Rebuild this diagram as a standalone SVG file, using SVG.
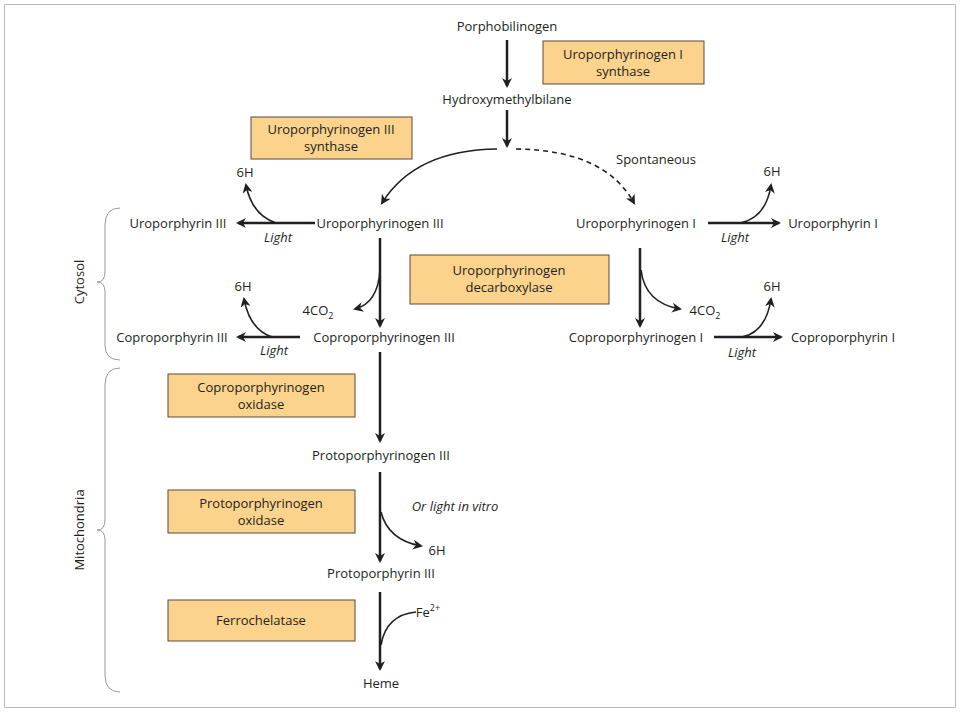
<svg xmlns="http://www.w3.org/2000/svg" width="960" height="714" viewBox="0 0 960 714">
<defs>
<marker id="ah" markerWidth="10" markerHeight="10" refX="8" refY="5" orient="auto" markerUnits="userSpaceOnUse">
<path d="M0,0 L10,5 L0,10 L3,5 Z" fill="#231f20"/>
</marker>
</defs>
<style>
text{font-family:"Open Sans","Liberation Sans",sans-serif;font-size:13px;fill:#231f20;text-anchor:middle}
.i{font-style:italic}
.box{fill:#fcd38c;stroke:#5a4a3a;stroke-width:1}
.m{stroke:#231f20;stroke-width:2.5;fill:none}
.t{stroke:#231f20;stroke-width:1.6;fill:none}
.br{stroke:#999;stroke-width:1;fill:none}
</style>
<rect x="0" y="0" width="960" height="714" fill="#fff"/>
<rect x="4.5" y="4.5" width="951" height="703" fill="none" stroke="#bbb"/>
<g id="nodes">
<g id="n1"><text x="507" y="31">Porphobilinogen</text></g>
<g id="n2"><text x="507" y="104">Hydroxymethylbilane</text></g>
<g id="e1"><rect class="box" x="543" y="41" width="161" height="43"/><text x="623" y="59">Uroporphyrinogen I</text><text x="623" y="76">synthase</text></g>
<g id="e2"><rect class="box" x="251" y="117" width="161" height="42"/><text x="331" y="134">Uroporphyrinogen III</text><text x="331" y="151">synthase</text></g>
<g id="n3"><text x="380" y="228">Uroporphyrinogen III</text></g>
<g id="n4"><text x="178" y="228">Uroporphyrin III</text></g>
<g id="n5"><text x="636" y="228">Uroporphyrinogen I</text></g>
<g id="n6"><text x="833" y="228">Uroporphyrin I</text></g>
<g id="e3"><rect class="box" x="410" y="255" width="199" height="49"/><text x="509" y="275">Uroporphyrinogen</text><text x="509" y="292">decarboxylase</text></g>
<g id="n7"><text x="384" y="342">Coproporphyrinogen III</text></g>
<g id="n8"><text x="172" y="342">Coproporphyrin III</text></g>
<g id="n9"><text x="636" y="342">Coproporphyrinogen I</text></g>
<g id="n10"><text x="843" y="342">Coproporphyrin I</text></g>
<g id="e4"><rect class="box" x="168" y="374" width="187" height="43"/><text x="261" y="392">Coproporphyrinogen</text><text x="261" y="409">oxidase</text></g>
<g id="n11"><text x="381" y="460">Protoporphyrinogen III</text></g>
<g id="e5"><rect class="box" x="168" y="490" width="187" height="43"/><text x="261" y="508">Protoporphyrinogen</text><text x="261" y="525">oxidase</text></g>
<g id="n12"><text x="381" y="578">Protoporphyrin III</text></g>
<g id="e6"><rect class="box" x="168" y="600" width="187" height="41"/><text x="261" y="625">Ferrochelatase</text></g>
<g id="n13"><text x="381" y="688">Heme</text></g>
<g id="labels">
<text x="656" y="164">Spontaneous</text>
<text x="245" y="177">6H</text>
<text x="772" y="176">6H</text>
<text x="243" y="291">6H</text>
<text x="772" y="291">6H</text>
<text x="278" y="242" class="i">Light</text>
<text x="274" y="355" class="i">Light</text>
<text x="735" y="242" class="i">Light</text>
<text x="742" y="357" class="i">Light</text>
<text x="318" y="315">4CO<tspan font-size="9" dy="4">2</tspan></text>
<text x="705" y="315">4CO<tspan font-size="9" dy="4">2</tspan></text>
<text x="455" y="511" class="i">Or light in vitro</text>
<text x="437" y="555">6H</text>
<text x="428" y="617">Fe<tspan font-size="9" dy="-6">2+</tspan></text>
<text transform="translate(84,282) rotate(-90)">Cytosol</text>
<text transform="translate(84,530) rotate(-90)">Mitochondria</text>
</g>
</g>
<g id="connectors">
<path class="br" d="M120,208 Q105,208 105,225 L105,272 Q105,282 97,282 Q105,282 105,292 L105,345 Q105,360 120,360"/>
<path class="br" d="M120,368 Q105,368 105,385 L105,520 Q105,530 97,530 Q105,530 105,540 L105,675 Q105,692 120,692"/>
<line class="m" x1="507" y1="40" x2="507" y2="86" marker-end="url(#ah)"/>
<line class="m" x1="507" y1="110" x2="507" y2="146" marker-end="url(#ah)"/>
<path class="t" d="M497,149 Q415,150 382,203" marker-end="url(#ah)"/>
<path class="t" stroke-dasharray="5,4" d="M516,149 Q605,150 634,203" marker-end="url(#ah)"/>
<line class="m" x1="315" y1="223" x2="238" y2="223" marker-end="url(#ah)"/>
<path class="t" d="M276,223 Q252,215 246,185" marker-end="url(#ah)"/>
<line class="m" x1="708" y1="223" x2="779" y2="223" marker-end="url(#ah)"/>
<path class="t" d="M740,223 Q766,218 771,185" marker-end="url(#ah)"/>
<line class="m" x1="380" y1="238" x2="380" y2="326" marker-end="url(#ah)"/>
<path class="t" d="M380,270 Q378,303 355,309" marker-end="url(#ah)"/>
<line class="m" x1="300" y1="337" x2="238" y2="337" marker-end="url(#ah)"/>
<path class="t" d="M272,337 Q250,330 244,299" marker-end="url(#ah)"/>
<line class="m" x1="640" y1="248" x2="640" y2="326" marker-end="url(#ah)"/>
<path class="t" d="M641,270 Q645,303 680,309" marker-end="url(#ah)"/>
<line class="m" x1="714" y1="337" x2="781" y2="337" marker-end="url(#ah)"/>
<path class="t" d="M742,337 Q766,332 771,299" marker-end="url(#ah)"/>
<line class="m" x1="380" y1="352" x2="380" y2="441" marker-end="url(#ah)"/>
<line class="m" x1="380" y1="472" x2="380" y2="561" marker-end="url(#ah)"/>
<path class="t" d="M381,512 Q388,540 421,546" marker-end="url(#ah)"/>
<line class="m" x1="380" y1="592" x2="380" y2="669" marker-end="url(#ah)"/>
<path class="t" d="M416,612 Q386,615 381,645"/>
</g>
</svg>
